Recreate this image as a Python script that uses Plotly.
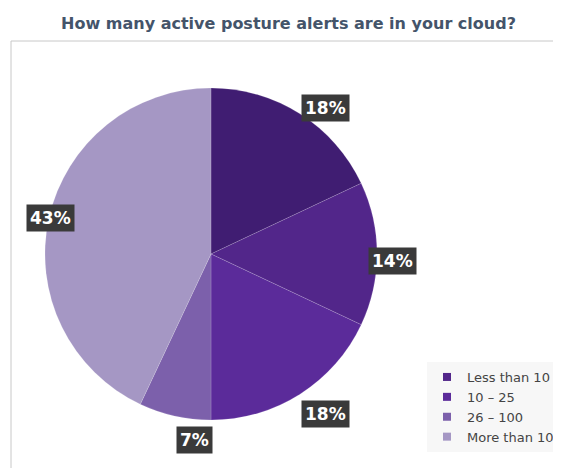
import math
import plotly.graph_objects as go

# slice values (clockwise from 12 o'clock)
slice_values = [18, 14, 18, 7, 43]
slice_colors = ['#401d72', '#52268a', '#5b2b9a', '#7c60ab', '#a597c4']

legend_labels = ['Less than 10', '10 – 25', '26 – 100', 'More than 100']
legend_colors = ['#52268a', '#5b2b9a', '#7c60ab', '#a597c4']

W, H = 561, 468
cx, cy, r_lab = 211, 253, 198

fig = go.Figure()

fig.add_trace(go.Pie(
    values=slice_values,
    labels=['s%d' % i for i in range(len(slice_values))],
    marker=dict(colors=slice_colors, line=dict(color='rgba(255,255,255,0.25)', width=0.6)),
    sort=False,
    direction='clockwise',
    rotation=0,
    textinfo='none',
    showlegend=False,
    domain=dict(x=[37 / W, 369 / W], y=[1 - 412 / H, 1 - 80 / H]),
))

# legend-only traces
for lab, col in zip(legend_labels, legend_colors):
    fig.add_trace(go.Scatter(
        x=[None], y=[None], mode='markers', name=lab,
        marker=dict(symbol='square', size=8, color=col),
    ))

# percentage labels with dark boxes
total = sum(slice_values)
acc = 0
for v in slice_values:
    mid = (acc + v / 2) / total * 2 * math.pi
    acc += v
    px = cx + r_lab * math.sin(mid)
    py = cy - r_lab * math.cos(mid)
    fig.add_annotation(
        x=px / W, y=1 - py / H, xref='paper', yref='paper',
        text='<b>%d%%</b>' % round(v / total * 100),
        showarrow=False,
        font=dict(family='DejaVu Sans', size=17, color='white'),
        bgcolor='#3a3a3a', borderpad=3,
    )

# outer frame
fig.add_shape(type='rect', xref='paper', yref='paper',
              x0=3 / W, x1=556 / W, y0=1 - 462 / H, y1=1 - 33 / H,
              line=dict(color='#c8c8c8', width=1))

fig.update_layout(
    width=W, height=H,
    margin=dict(l=0, r=0, t=0, b=0),
    paper_bgcolor='white', plot_bgcolor='white',
    title=dict(text='<b>How many active posture alerts are in your cloud?</b>',
               x=0.5, xanchor='center', y=1 - 15 / H, yanchor='middle',
               font=dict(family='DejaVu Sans', size=16, color='#44546a')),
    xaxis=dict(visible=False), yaxis=dict(visible=False),
    legend=dict(x=419 / W, y=1 - 354 / H, xanchor='left', yanchor='top',
                bgcolor='#f7f7f7', font=dict(family='DejaVu Sans', size=13, color='#444444'),
                itemwidth=30, tracegroupgap=4),
)

fig.write_html('out.html')
